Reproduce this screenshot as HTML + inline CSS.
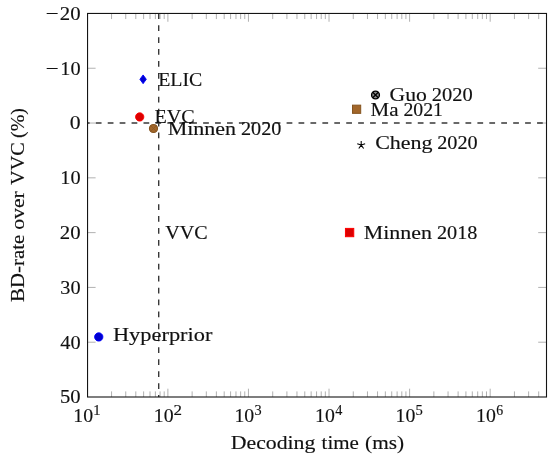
<!DOCTYPE html>
<html lang="en"><head><meta charset="utf-8"><title>BD-rate vs decoding time</title>
<style>html,body{margin:0;padding:0;background:#fff}svg{display:block}text{font-family:"Liberation Serif","DejaVu Serif",serif;fill:#111;stroke:#111;stroke-width:0.15px;font-kerning:none}</style></head><body>
<svg width="550" height="458" viewBox="0 0 550 458">
<rect width="550" height="458" fill="#fff"/>
<path d="M111.56 397.0v-5.6M111.56 13.45v5.6M125.74 397.0v-5.6M125.74 13.45v5.6M135.81 397.0v-5.6M135.81 13.45v5.6M143.62 397.0v-5.6M143.62 13.45v5.6M150.00 397.0v-5.6M150.00 13.45v5.6M155.39 397.0v-5.6M155.39 13.45v5.6M160.07 397.0v-5.6M160.07 13.45v5.6M164.19 397.0v-5.6M164.19 13.45v5.6M167.88 397.0v-8.3M167.88 13.45v8.3M192.13 397.0v-5.6M192.13 13.45v5.6M206.32 397.0v-5.6M206.32 13.45v5.6M216.39 397.0v-5.6M216.39 13.45v5.6M224.20 397.0v-5.6M224.20 13.45v5.6M230.58 397.0v-5.6M230.58 13.45v5.6M235.97 397.0v-5.6M235.97 13.45v5.6M240.64 397.0v-5.6M240.64 13.45v5.6M244.76 397.0v-5.6M244.76 13.45v5.6M248.45 397.0v-8.3M248.45 13.45v8.3M272.71 397.0v-5.6M272.71 13.45v5.6M286.90 397.0v-5.6M286.90 13.45v5.6M296.96 397.0v-5.6M296.96 13.45v5.6M304.77 397.0v-5.6M304.77 13.45v5.6M311.15 397.0v-5.6M311.15 13.45v5.6M316.55 397.0v-5.6M316.55 13.45v5.6M321.22 397.0v-5.6M321.22 13.45v5.6M325.34 397.0v-5.6M325.34 13.45v5.6M329.03 397.0v-8.3M329.03 13.45v8.3M353.28 397.0v-5.6M353.28 13.45v5.6M367.47 397.0v-5.6M367.47 13.45v5.6M377.54 397.0v-5.6M377.54 13.45v5.6M385.35 397.0v-5.6M385.35 13.45v5.6M391.73 397.0v-5.6M391.73 13.45v5.6M397.12 397.0v-5.6M397.12 13.45v5.6M401.80 397.0v-5.6M401.80 13.45v5.6M405.92 397.0v-5.6M405.92 13.45v5.6M409.60 397.0v-8.3M409.60 13.45v8.3M433.86 397.0v-5.6M433.86 13.45v5.6M448.05 397.0v-5.6M448.05 13.45v5.6M458.12 397.0v-5.6M458.12 13.45v5.6M465.92 397.0v-5.6M465.92 13.45v5.6M472.30 397.0v-5.6M472.30 13.45v5.6M477.70 397.0v-5.6M477.70 13.45v5.6M482.37 397.0v-5.6M482.37 13.45v5.6M486.49 397.0v-5.6M486.49 13.45v5.6M490.18 397.0v-8.3M490.18 13.45v8.3M514.44 397.0v-5.6M514.44 13.45v5.6M528.62 397.0v-5.6M528.62 13.45v5.6M538.69 397.0v-5.6M538.69 13.45v5.6M546.50 397.0v-5.6M546.50 13.45v5.6M87.3 68.24h8.3M546.5 68.24h-8.3M87.3 123.04h8.3M546.5 123.04h-8.3M87.3 177.83h8.3M546.5 177.83h-8.3M87.3 232.62h8.3M546.5 232.62h-8.3M87.3 287.41h8.3M546.5 287.41h-8.3M87.3 342.21h8.3M546.5 342.21h-8.3" stroke="#868686" stroke-width="0.65" fill="none"/>
<path d="M87.3 123.05H546.5" stroke="#383838" stroke-width="1.4" stroke-dasharray="5.75 6.175" stroke-dashoffset="3.43" fill="none"/>
<path d="M158.7 13.3V397.0" stroke="#383838" stroke-width="1.4" stroke-dasharray="5.75 6.18" fill="none"/>
<rect x="87.55" y="13.45" width="458.95" height="383.55" fill="none" stroke="#141414" stroke-width="1.1"/>
<text x="45.52" y="20" font-size="19.6" textLength="13.33" lengthAdjust="spacingAndGlyphs" style="stroke-width:0">−</text>
<text x="59.89" y="20" font-size="19.6" textLength="20.75" lengthAdjust="spacingAndGlyphs">20</text>
<text x="45.52" y="75" font-size="19.6" textLength="13.33" lengthAdjust="spacingAndGlyphs" style="stroke-width:0">−</text>
<text x="60.32" y="75" font-size="19.6" textLength="20.31" lengthAdjust="spacingAndGlyphs">10</text>
<text x="69.77" y="129" font-size="19.6" textLength="10.85" lengthAdjust="spacingAndGlyphs">0</text>
<text x="60.32" y="184" font-size="19.6" textLength="20.31" lengthAdjust="spacingAndGlyphs">10</text>
<text x="59.89" y="239" font-size="19.6" textLength="20.75" lengthAdjust="spacingAndGlyphs">20</text>
<text x="60.33" y="294" font-size="19.6" textLength="20.29" lengthAdjust="spacingAndGlyphs">30</text>
<text x="60.3" y="349" font-size="19.6" textLength="20.32" lengthAdjust="spacingAndGlyphs">40</text>
<text x="60.0" y="403" font-size="19.6" textLength="20.63" lengthAdjust="spacingAndGlyphs">50</text>
<text x="73.26" y="422" font-size="19.6" textLength="19.79" lengthAdjust="spacingAndGlyphs">10</text>
<text x="93.18" y="415" font-size="15.6" textLength="7.24" lengthAdjust="spacingAndGlyphs">1</text>
<text x="153.84" y="422" font-size="19.6" textLength="19.79" lengthAdjust="spacingAndGlyphs">10</text>
<text x="173.43" y="415" font-size="15.6" textLength="8.48" lengthAdjust="spacingAndGlyphs">2</text>
<text x="234.41" y="422" font-size="19.6" textLength="19.79" lengthAdjust="spacingAndGlyphs">10</text>
<text x="254.52" y="415" font-size="15.6" textLength="7.14" lengthAdjust="spacingAndGlyphs">3</text>
<text x="314.99" y="422" font-size="19.6" textLength="19.79" lengthAdjust="spacingAndGlyphs">10</text>
<text x="335.15" y="415" font-size="15.6" textLength="7.1" lengthAdjust="spacingAndGlyphs">4</text>
<text x="395.56" y="422" font-size="19.6" textLength="19.79" lengthAdjust="spacingAndGlyphs">10</text>
<text x="415.5" y="415" font-size="15.6" textLength="7.32" lengthAdjust="spacingAndGlyphs">5</text>
<text x="476.14" y="422" font-size="19.6" textLength="19.79" lengthAdjust="spacingAndGlyphs">10</text>
<text x="496.34" y="415" font-size="15.6" textLength="6.9" lengthAdjust="spacingAndGlyphs">6</text>
<text y="449" font-size="19.75"><tspan x="230.77" textLength="84.64" lengthAdjust="spacingAndGlyphs">Decoding</tspan> <tspan x="321.59" textLength="37.33" lengthAdjust="spacingAndGlyphs">time</tspan> <tspan x="365.07" textLength="38.97" lengthAdjust="spacingAndGlyphs">(ms)</tspan></text>
<text y="0" font-size="19.75" transform="translate(23.7 301.4) rotate(-90)"><tspan x="-0.6" textLength="67.22" lengthAdjust="spacingAndGlyphs">BD-rate</tspan> <tspan x="71.57" textLength="38.62" lengthAdjust="spacingAndGlyphs">over</tspan> <tspan x="116.47" textLength="42.64" lengthAdjust="spacingAndGlyphs">VVC</tspan> <tspan x="163.42" textLength="29.85" lengthAdjust="spacingAndGlyphs">(%)</tspan></text>
<circle cx="98.75" cy="336.95" r="4.15" fill="#0000d0" stroke="#0000ff" stroke-width="0.9"/>
<text x="112.96" y="341" font-size="19.75" textLength="99.44" lengthAdjust="spacingAndGlyphs">Hyperprior</text>
<rect x="345.45000000000005" y="228.4" width="8.3" height="8.3" fill="#dc0000" stroke="#ff0000" stroke-width="1.0"/>
<text y="239" font-size="19.75"><tspan x="363.77" textLength="68.16" lengthAdjust="spacingAndGlyphs">Minnen</tspan> <tspan x="437.01" textLength="40.46" lengthAdjust="spacingAndGlyphs">2018</tspan></text>
<circle cx="153.5" cy="128.5" r="4.05" fill="#a2662a" stroke="#85541f" stroke-width="1.1"/>
<path d="M150.67 125.67L156.33 131.33M150.67 131.33L156.33 125.67" stroke="#8a5826" stroke-width="0.8" fill="none"/>
<path d="M361.2 145.1L361.20 140.95M361.2 145.1L357.25 143.82M361.2 145.1L358.76 148.46M361.2 145.1L363.64 148.46M361.2 145.1L365.15 143.82" stroke="#000" stroke-width="1.05" fill="none"/>
<text y="149" font-size="19.75"><tspan x="375.2" textLength="57.42" lengthAdjust="spacingAndGlyphs">Cheng</tspan> <tspan x="437.21" textLength="40.46" lengthAdjust="spacingAndGlyphs">2020</tspan></text>
<path d="M143.1 74.95L146.29999999999998 79.3L143.1 83.65L139.9 79.3Z" fill="#0000d0" stroke="#0000ff" stroke-width="0.9"/>
<text x="158.23" y="86" font-size="19.75" textLength="44.17" lengthAdjust="spacingAndGlyphs">ELIC</text>
<circle cx="139.7" cy="116.95" r="4.15" fill="#dc0000" stroke="#ff0000" stroke-width="0.9"/>
<text x="154.52" y="123" font-size="19.75" textLength="40.29" lengthAdjust="spacingAndGlyphs">EVC</text>
<text y="135" font-size="19.75"><tspan x="167.67" textLength="68.37" lengthAdjust="spacingAndGlyphs">Minnen</tspan> <tspan x="240.91" textLength="40.46" lengthAdjust="spacingAndGlyphs">2020</tspan></text>
<rect x="352.5" y="105.15" width="8.2" height="8.2" fill="#a2662a" stroke="#85541f" stroke-width="1.0"/>
<text y="116" font-size="19.75"><tspan x="370.5" textLength="27.99" lengthAdjust="spacingAndGlyphs">Ma</tspan> <tspan x="403.43" textLength="39.56" lengthAdjust="spacingAndGlyphs">2021</tspan></text>
<circle cx="375.5" cy="95.0" r="3.9" fill="#8a8a8a" stroke="#000" stroke-width="1.4"/>
<path d="M372.74 92.24L378.26 97.76M372.74 97.76L378.26 92.24" stroke="#000" stroke-width="1.25" fill="none"/>
<text y="101" font-size="19.75"><tspan x="389.61" textLength="37.31" lengthAdjust="spacingAndGlyphs">Guo</tspan> <tspan x="431.7" textLength="40.98" lengthAdjust="spacingAndGlyphs">2020</tspan></text>
<text x="165.27" y="239" font-size="19.75" textLength="42.43" lengthAdjust="spacingAndGlyphs">VVC</text>
</svg></body></html>
